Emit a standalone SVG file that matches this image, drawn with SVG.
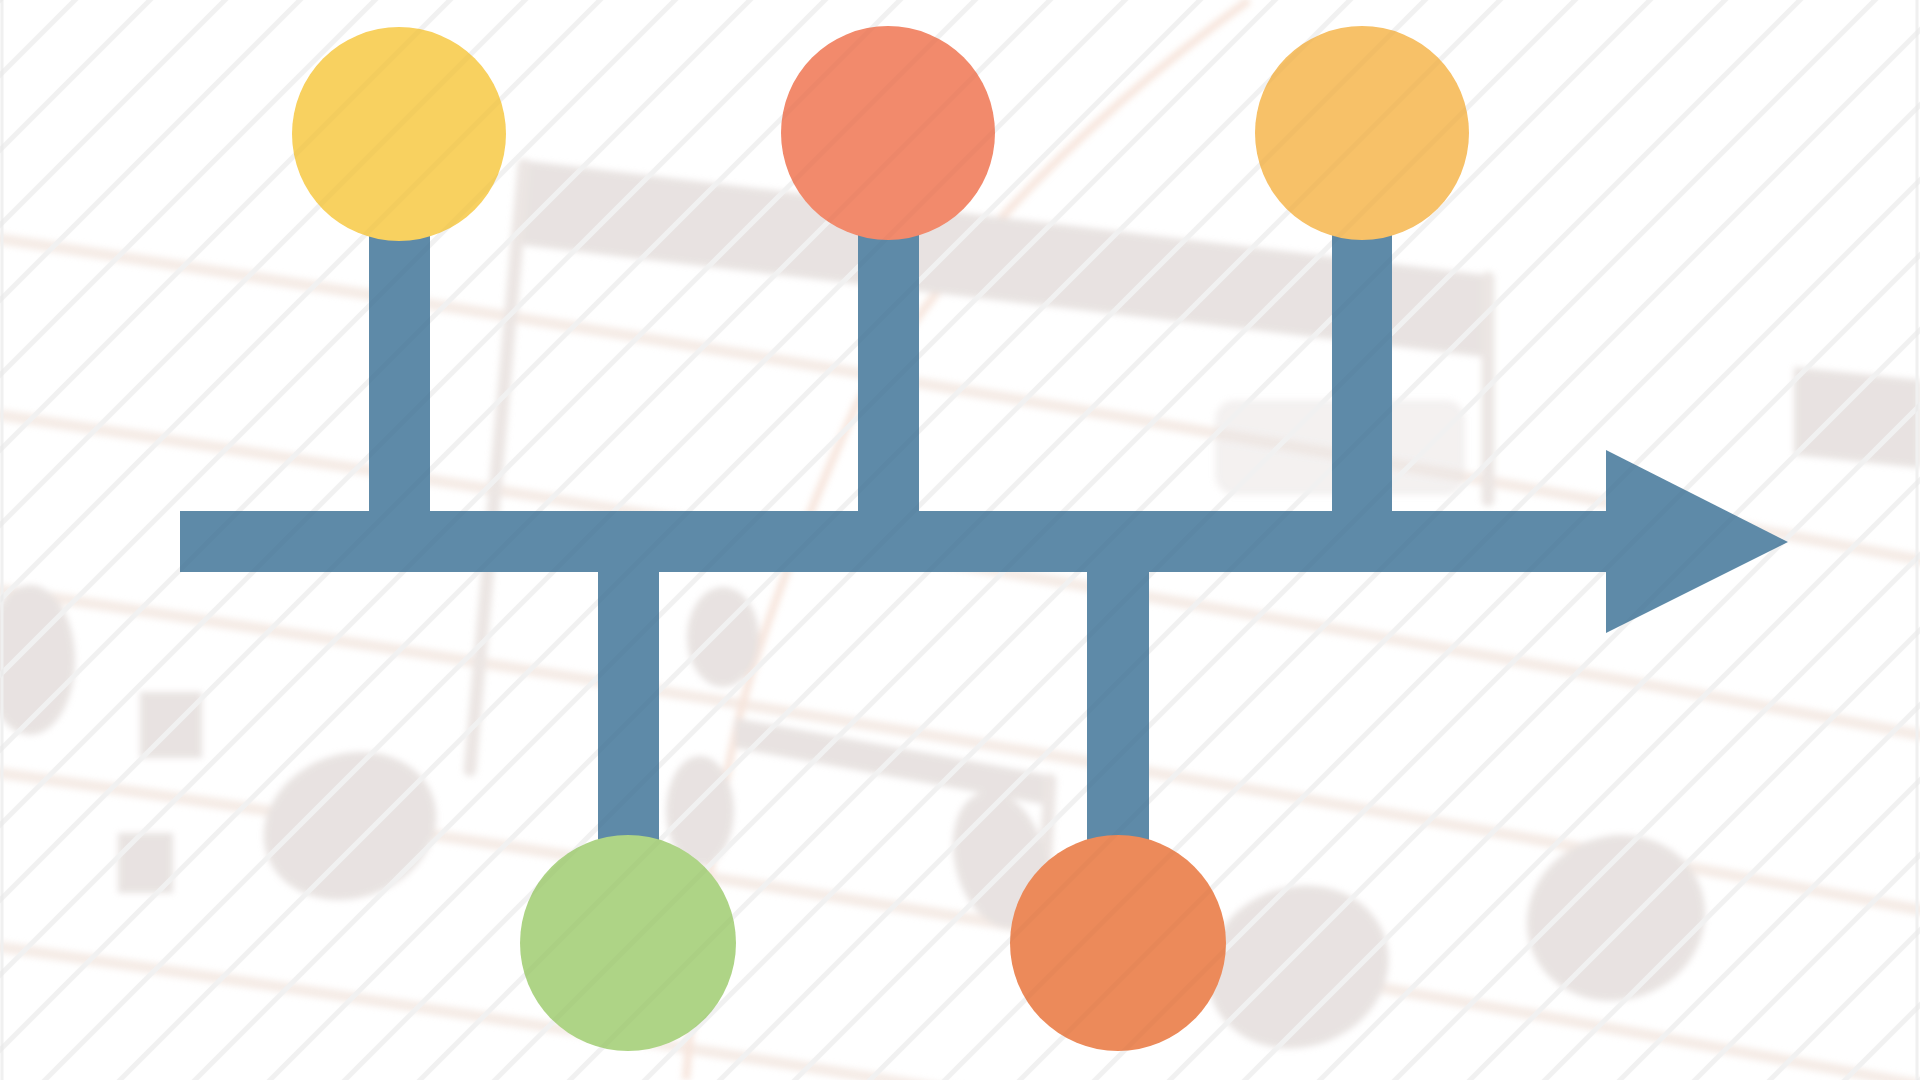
<svg xmlns="http://www.w3.org/2000/svg" width="1920" height="1080" viewBox="0 0 1920 1080">
  <defs>
    <pattern id="stripes" patternUnits="userSpaceOnUse" width="75" height="75">
      <path d="M-8,8 L8,-8 M0,75 L75,0 M67,83 L83,67" stroke="#f6f6f6" stroke-width="5" fill="none"/>
    </pattern>
    <pattern id="stripes-dark" patternUnits="userSpaceOnUse" width="75" height="75">
      <path d="M-8,8 L8,-8 M0,75 L75,0 M67,83 L83,67" stroke="#000000" stroke-width="5" fill="none"/>
    </pattern>
    <filter id="soft" x="-5%" y="-5%" width="110%" height="110%">
      <feGaussianBlur stdDeviation="3"/>
    </filter>
    <style>
      .staff { fill: none; stroke: #eddcd2; stroke-width: 11; stroke-linecap: round; }
      .ink { fill: #d6ccc9; }
      .stem { fill: none; stroke: #dcd1cd; stroke-width: 13; stroke-linecap: round; }
      .bar { fill: #5e8aa8; }
      .dot { stroke: none; }
    </style>
  </defs>

  <rect x="0" y="0" width="1920" height="1080" fill="#ffffff"/>

  <!-- faded music score background -->
  <g id="score" opacity="0.55" filter="url(#soft)">
    <path class="staff" d="M0,239 Q960,380 1920,560"/>
    <path class="staff" d="M0,415 Q960,555 1920,735"/>
    <path class="staff" d="M0,590 Q960,730 1920,910"/>
    <path class="staff" d="M0,773 Q960,905 1920,1085"/>
    <path class="staff" d="M0,947 Q960,1080 1920,1260"/>
    <path d="M1249,0 Q1000,180 857,404 Q760,620 735,735 Q700,900 686,1080" fill="none" stroke="#f1d2c2" stroke-width="8"/>
    <polygon class="ink" points="520,160 1494,276 1494,358 520,245"/>
    <polygon class="ink" points="735,718 1053,776 1053,806 735,748"/>
    <polygon class="ink" points="1794,367 1920,380 1920,468 1794,455"/>
    <path class="stem" d="M524,165 L470,770"/>
    <path class="stem" d="M1488,278 L1488,500"/>
    <path class="stem" d="M1050,780 L1045,870"/>
    <ellipse class="ink" cx="350" cy="826" rx="88" ry="72" transform="rotate(-20 350 826)"/>
    <ellipse class="ink" cx="1298" cy="967" rx="92" ry="80" transform="rotate(-20 1298 967)"/>
    <ellipse class="ink" cx="1616" cy="918" rx="90" ry="82" transform="rotate(-20 1616 918)"/>
    <ellipse class="ink" cx="723" cy="637" rx="36" ry="50"/>
    <ellipse class="ink" cx="700" cy="811" rx="34" ry="55"/>
    <ellipse class="ink" cx="1000" cy="860" rx="45" ry="70" transform="rotate(-15 1000 860)"/>
    <ellipse class="ink" cx="30" cy="660" rx="45" ry="75"/>
    <rect class="ink" x="140" y="692" width="62" height="66"/>
    <rect class="ink" x="118" y="833" width="55" height="60"/>
    <rect class="ink" x="1215" y="400" width="250" height="95" rx="20" opacity="0.5"/>
  </g>

  <!-- diagonal stripes -->
  <rect x="0" y="0" width="1920" height="1080" fill="url(#stripes)"/>
  <line x1="2" y1="0" x2="2" y2="1080" stroke="#f0f0f0" stroke-width="3"/>
  <line x1="1917" y1="0" x2="1917" y2="1080" stroke="#f0f0f0" stroke-width="3"/>

  <!-- connectors: timeline bar, arrowhead and stems -->
  <g id="connectors">
    <rect class="bar" x="180" y="511" width="1428" height="61"/>
    <polygon class="bar" points="1606,450 1788,542 1606,633"/>
    <rect class="bar" x="369" y="200" width="61" height="312"/>
    <rect class="bar" x="858" y="200" width="61" height="312"/>
    <rect class="bar" x="1332" y="200" width="60" height="312"/>
    <rect class="bar" x="598" y="571" width="61" height="290"/>
    <rect class="bar" x="1087" y="571" width="62" height="290"/>
  </g>

  <g id="node-top-1"><circle class="dot" cx="399" cy="134" r="107" fill="#f8d160"/></g>
  <g id="node-top-2"><circle class="dot" cx="888" cy="133" r="107" fill="#f28a6c"/></g>
  <g id="node-top-3"><circle class="dot" cx="1362" cy="133" r="107" fill="#f7c168"/></g>
  <g id="node-bottom-1"><circle class="dot" cx="628" cy="943" r="108" fill="#aed486"/></g>
  <g id="node-bottom-2"><circle class="dot" cx="1118" cy="943" r="108" fill="#ec8a5a"/></g>

  <!-- faint stripes over everything -->
  <rect x="0" y="0" width="1920" height="1080" fill="url(#stripes-dark)" opacity="0.02"/>
</svg>
